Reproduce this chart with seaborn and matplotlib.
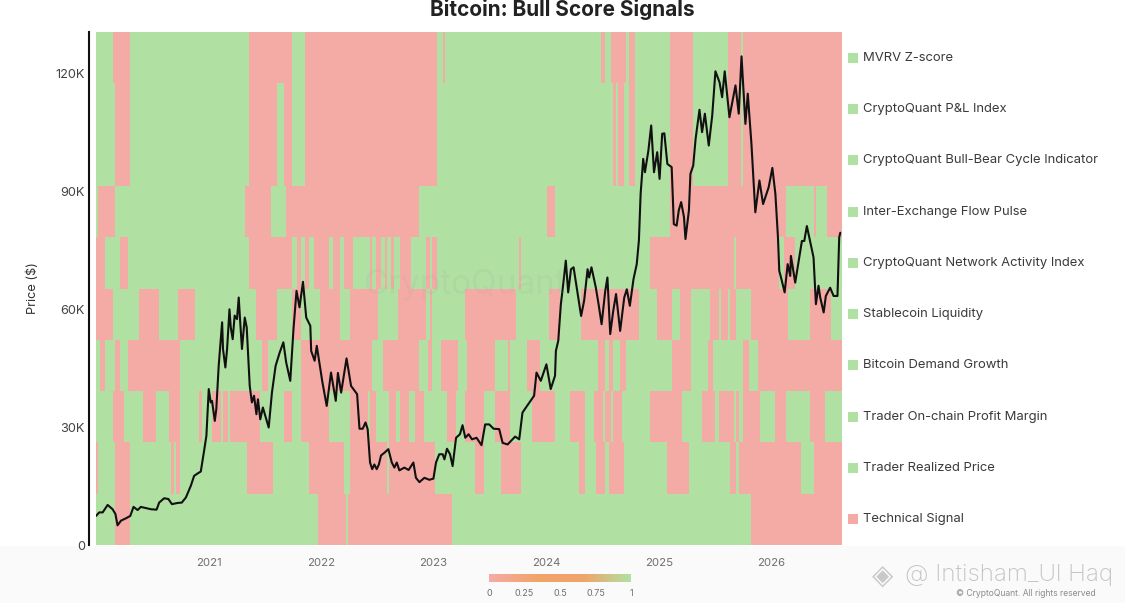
"""Bitcoin bull score signals: weekly signal heatmap with the price on top."""

import matplotlib.pyplot as plt
import matplotlib.dates as mdates
from matplotlib.colors import LinearSegmentedColormap
from matplotlib.patches import Rectangle
from matplotlib.ticker import FuncFormatter
import seaborn as sns
import numpy as np
import pandas as pd

sns.set_style('white')
plt.rcParams['font.family'] = ['Inter', 'DejaVu Sans']

N_WEEKS = 346
START = pd.Timestamp('2020-01-01')

signal_names = ['MVRV Z-score', 'CryptoQuant P&L Index', 'CryptoQuant Bull-Bear Cycle Indicator',
                'Inter-Exchange Flow Pulse', 'CryptoQuant Network Activity Index', 'Stablecoin Liquidity',
                'Bitcoin Demand Growth', 'Trader On-chain Profit Margin', 'Trader Realized Price',
                'Technical Signal']
latest_score = [1, 1, 1, 1, 1, 1, 1, 1, 1, 0]

# score at week 0 of each signal, and the weeks at which it flips
first_score = [1, 1, 1, 1, 0, 0, 1, 1, 0, 1]
flip_weeks = [
    [8, 16, 71, 91, 97, 158, 161, 162, 234, 236, 239, 246, 247, 250, 266, 277, 293, 299, 300],
    [9, 16, 71, 84, 87, 91, 97, 158, 240, 241, 242, 245, 247, 250, 266, 277, 293, 299, 300],
    [9, 16, 71, 84, 87, 91, 97, 158, 240, 241, 242, 245, 247, 250, 266, 277, 293, 299, 300],
    [1, 9, 69, 81, 88, 150, 209, 213, 266, 320, 333, 334, 339],
    [4, 11, 15, 71, 91, 93, 95, 97, 99, 101, 108, 110, 113, 115, 119, 127, 128, 130, 132, 134,
     135, 137, 138, 141, 146, 153, 155, 156, 158, 196, 197, 257, 296, 297, 317, 319, 324],
    [8, 20, 29, 38, 46, 74, 84, 91, 95, 104, 113, 118, 131, 140, 153, 155, 156, 171, 195, 210,
     215, 225, 252, 260, 267, 271, 276, 285, 289, 290, 293, 294, 297, 304, 321, 331, 341],
    [2, 4, 9, 11, 15, 39, 77, 80, 95, 128, 133, 150, 154, 156, 160, 168, 172, 185, 191, 192,
     200, 206, 233, 236, 238, 240, 243, 246, 267, 276, 284, 286, 300, 303, 307],
    [8, 13, 22, 28, 34, 39, 48, 49, 54, 58, 59, 61, 62, 76, 87, 91, 95, 108, 118, 126, 127, 130,
     136, 139, 141, 145, 148, 152, 163, 167, 171, 180, 185, 192, 202, 213, 220, 227, 231, 235,
     236, 239, 240, 244, 257, 272, 281, 287, 289, 296, 297, 298, 300, 308, 315, 320, 331, 338],
    [1, 9, 16, 35, 36, 37, 39, 70, 82, 99, 115, 118, 135, 136, 157, 176, 180, 188, 197, 224,
     227, 232, 236, 238, 245, 265, 275, 294, 297, 298, 327, 333],
    [9, 16, 103, 116, 117, 165, 304],
]

# weeks since 2020-01-01 and BTC price in thousand dollars
price_weeks = [0, 1.5, 3.1, 5.4, 7.7, 9, 10, 11.6, 13.9, 15.9,
               17.4, 19.3, 20.8, 23.1, 25.5, 28.1, 29.3, 31.6, 33.6, 35.2,
               37.8, 39.8, 41.7, 44, 45.5, 47.1, 48.6, 50, 51.2,
               52.3, 53.2, 53.8, 55.1, 55.8, 56.9, 58.5, 58.9, 60, 60.8,
               61.9, 62.5, 63.4, 64.3, 65.4, 66.2, 66.8, 67.7, 69, 69.9,
               71.3, 72.3, 73.3, 74.4, 75.1, 76.2, 77.4, 80.1, 81.6, 83.3,
               85.2, 86.9, 88.2, 90.1, 91.6, 93, 94.4, 96, 97.5, 99.4,
               99.8, 101.4, 102.4, 104.9, 107, 109, 111.2, 112.2, 113.7, 116.2,
               118.3, 121.1, 122.2, 123.7, 125, 126, 127.1, 128.1, 129.1, 130.2,
               131.2, 132.2, 133.8, 135.6, 137.2, 138.4, 139.5, 140.7, 143, 145,
               147.2, 148.4, 150, 152.3, 154.6, 156.5, 157.7, 159.2, 160.8, 161.6,
               162.8, 164.2, 165.4, 167, 168.8, 170, 171.3, 172.8, 174.4, 176.5,
               178.8, 180.5, 182.4, 184.4, 187, 188.6, 190.9, 193.2, 194.4, 196.3,
               197.8, 199.4, 203.2, 204.3, 206.3, 208.9, 210.9, 212.9,
               213.3, 214.4, 215.6, 216.7, 217.9,
               219, 220.3, 221.5, 223.4, 225, 226.4, 228, 228.7, 229.8, 231.8,
               233.1, 234.5, 236.2, 237.2, 238.5, 239.9, 241.2, 243.1, 245, 246.2,
               247.6, 249.3, 250.8, 251.8, 252.6, 253.8, 254.6, 256.2, 257.5, 258.8,
               260.3, 261.4, 262.6, 263.6, 265, 267, 268, 269.3, 270.3, 271.4,
               272.7, 273.4, 275, 275.7, 277, 278.1, 279.9, 281.1, 282.4, 284.2,
               285.8, 287.3, 289.2, 290.4, 291.6, 293.8, 296.6, 298.1, 299.4, 301.2,
               302.3, 304, 305.8, 307.7, 309.4, 312, 313.7, 315.1, 316.3, 316.9,
               317.9, 319.4, 320.8, 322, 322.3, 324.3, 325.9, 327.4, 328.5, 329.7,
               331.3, 332.8, 333.9, 335.1, 335.9, 337.5, 338.5, 340.5, 342.1, 343.9,
               344.7, 345.2]
price_k = [7.4, 8.3, 8.3, 10.2, 9.1, 7.9, 5, 6.2, 6.8, 7.4,
           9.7, 8.9, 9.7, 9.4, 9.1, 9, 10.8, 11.9, 11.7, 10.4,
           10.7, 10.8, 12.1, 15.1, 17.6, 18.2, 18.7, 23.5, 27.8,
           39.7, 36.3, 36.7, 31.6, 34.6, 45.6, 56.7, 49.9, 45.2, 49.9,
           60, 55.4, 52.4, 58.4, 57.5, 63, 57.5, 49.9, 57.9, 55.4,
           40.5, 36.3, 38, 33.3, 37.1, 32, 35, 29.9, 38.8, 45.6,
           49, 51.6, 46.5, 41.8, 55, 64.7, 60.5, 67, 57.9, 55.8,
           49.4, 46.9, 50.7, 41.8, 35.4, 43.9, 36.7, 43.8, 38.8, 47.5,
           40.5, 38.4, 29.6, 29.6, 31.2, 29.5, 21, 19.3, 20.5, 19.3,
           20.5, 22.8, 23.5, 24.4, 21, 19.7, 21, 19, 19.7, 19.1,
           21, 17.1, 16, 17.1, 16.6, 16.9, 21, 23.1, 23.1, 21.8,
           24.5, 23.1, 20.1, 27.3, 28.2, 30.5, 27.3, 28.2, 26.9, 27.3,
           25.4, 30.7, 30.7, 29.6, 29.5, 26, 25.6, 26.9, 27.6, 26.9,
           33.7, 35, 38, 43.9, 41.8, 46, 39.7, 43.1,
           49.4, 52, 61.3, 66.4, 72.4,
           64.3, 70.2, 70.7, 63.9, 58.3, 62.2, 70.2, 68.1, 70.7, 65.6,
           61.3, 56.2, 64.7, 68.1, 53.7, 59.6, 63.9, 54.5, 63, 65.1,
           60.9, 67.7, 71.5, 77.5, 89.4, 98.3, 94.9, 100.4, 106.8, 94.9,
           100, 93.2, 104.7, 104.8, 97, 96.2, 81.7, 81.3, 85.2, 87.3,
           83.5, 77.9, 85.2, 94.5, 96.6, 103.4, 110.8, 105.1, 109.8, 101.7,
           109.3, 120.6, 117.8, 114, 120.6, 108.9, 117, 109.8, 124.4, 107.2,
           114.9, 102.1, 84.7, 92.8, 86.8, 91.1, 96, 89.4, 78.3, 69.8,
           67.7, 64.3, 71.5, 68.5, 73.6, 66.8, 72.3, 77.4, 77.4, 81.2,
           77, 73.2, 61.3, 66, 63, 59.2, 63.4, 65.5, 63.4, 63.4,
           78.3, 79.5]

year_labels = [2021, 2022, 2023, 2024, 2025, 2026]
price_ticks = [0, 30, 60, 90, 120]
score_ticks = [0, 0.25, 0.5, 0.75, 1]
score_tick_labels = ['0', '0.25', '0.5', '0.75', '1']

RED = '#f5aba5'
ORANGE = '#f0a469'
GREEN = '#b1e0a3'
GREY = '#6f6f6f'


def build_matrix():
    # each row holds the score of one signal, week by week
    rows = []
    for first, flips in zip(first_score, flip_weeks):
        edges = [0] + flips + [N_WEEKS]
        row = np.zeros(N_WEEKS)
        score = first
        for a, b in zip(edges[:-1], edges[1:]):
            row[a:b] = score
            score = 1 - score
        rows.append(row)
    return pd.DataFrame(rows, index=signal_names)


W, H = 1125, 603
fig = plt.figure(figsize=(W / 100, H / 100), dpi=100)
fig.add_artist(Rectangle((0, 0), 1, 1 - 546 / H, transform=fig.transFigure, color='#fafafa', lw=0, zorder=-5))
rect = [96 / W, 1 - 545 / H, 746 / W, 513 / H]
ax_map = fig.add_axes(rect)
cbar_ax = fig.add_axes([489 / W, 1 - 582 / H, 142 / W, 8 / H])

score_cmap = LinearSegmentedColormap.from_list('score', [RED, ORANGE, ORANGE, GREEN])
sns.heatmap(build_matrix(), ax=ax_map, cmap=score_cmap, vmin=0, vmax=1, cbar_ax=cbar_ax,
            cbar_kws={'orientation': 'horizontal', 'ticks': score_ticks},
            xticklabels=False, yticklabels=False)
ax_map.set_xlabel('')
ax_map.set_ylabel('')

cbar_ax.set_xticklabels(score_tick_labels)
cbar_ax.tick_params(axis='x', length=0, labelsize=6.5, labelcolor=GREY, pad=5)
for spine in cbar_ax.spines.values():
    spine.set_visible(False)

# signal names and their latest score, right of the heatmap
for i, name in enumerate(signal_names):
    ax_map.scatter(N_WEEKS + 5, i + 0.5, marker='s', s=62, clip_on=False, linewidths=0,
                   color=GREEN if latest_score[i] else RED)
    ax_map.text(N_WEEKS + 9.7, i + 0.5, name, va='center', ha='left', fontsize=9.4, color='#3a3a3a')

# price on top
ax_price = fig.add_axes(rect, facecolor='none')
dates = START + pd.to_timedelta(np.array(price_weeks) * 7, unit='D')
sns.lineplot(x=dates, y=np.array(price_k) * 1000, ax=ax_price, color='#111111', linewidth=1.5,
             errorbar=None, estimator=None)
ax_price.set_xlim(START, START + pd.Timedelta(days=7 * N_WEEKS))
ax_price.set_ylim(0, 130600)
ax_price.set_xlabel('')

ax_price.set_xticks([pd.Timestamp(f'{y}-01-01') for y in year_labels])
ax_price.xaxis.set_major_formatter(mdates.DateFormatter('%Y'))
ax_price.tick_params(axis='x', length=3, width=0.6, color='#cccccc', labelsize=8.2, labelcolor=GREY, pad=6)
ax_price.set_yticks([t * 1000 for t in price_ticks])
ax_price.yaxis.set_major_formatter(FuncFormatter(lambda v, _: f'{v / 1000:.0f}K' if v else '0'))
ax_price.tick_params(axis='y', length=0, labelsize=9.2, labelcolor='#444444', pad=3)
ax_price.set_ylabel('Price ($)', fontsize=9.2, color='#333333', labelpad=12)
sns.despine(ax=ax_price, left=False, bottom=True)
ax_price.spines['left'].set_position(('outward', 5))
ax_price.spines['left'].set_color('#111111')
ax_price.spines['left'].set_linewidth(1.5)

fig.text(562 / W, 1 - 16 / H, 'Bitcoin: Bull Score Signals', ha='center', va='baseline',
         fontsize=15, fontweight='bold', color='#222222')

# watermarks
ax_price.text(0.495, 0.507, 'CryptoQuant', transform=ax_price.transAxes, ha='center', va='center',
              fontsize=24, color='#9a9a9a', alpha=0.1)
fig.text(872 / W, 1 - 576 / H, '◈', fontsize=20, color='#c9c9c9', va='center',
         family=['DejaVu Sans'])
fig.text(905 / W, 1 - 575 / H, '@ Intisham_Ul Haq', fontsize=17.4, color='#c4c4c4', va='center',
         fontweight='light')
fig.text(956 / W, 1 - 593 / H, '© CryptoQuant. All rights reserved', fontsize=6.2, color='#8c8c8c',
         va='center')

fig.savefig('out.png', dpi=100)
